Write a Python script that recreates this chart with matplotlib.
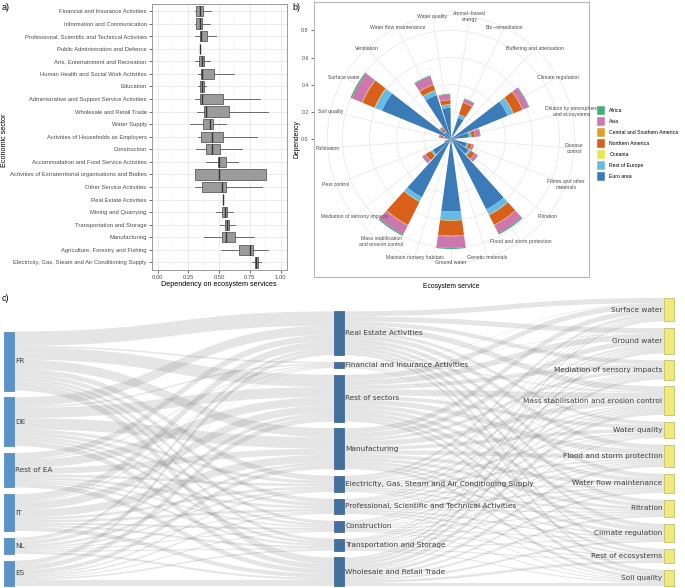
import numpy as np
import matplotlib
matplotlib.use("Agg")
import matplotlib.pyplot as plt
from matplotlib.path import Path
from matplotlib.patches import PathPatch, Rectangle, Patch

# ---------------- data: panel a ----------------
sectors_a = ["Financial and Insurance Activities", "Information and Communication",
             "Professional, Scientific and Technical Activities", "Public Administration and Defence",
             "Arts, Entertainment and Recreation", "Human Health and Social Work Activities",
             "Education", "Administrative and Support Service Activities", "Wholesale and Retail Trade",
             "Water Supply", "Activities of Households as Employers", "Construction",
             "Accommodation and Food Service Activities",
             "Activities of Extraterritorial organisations and Bodies", "Other Service Activities",
             "Real Estate Activities", "Mining and Quarrying", "Transportation and Storage",
             "Manufacturing", "Agriculture, Forestry and Fishing",
             "Electricity, Gas, Steam and Air Conditioning Supply"]
q1_a  = [0.315, 0.313, 0.342, 0.345, 0.337, 0.356, 0.348, 0.342, 0.374, 0.370, 0.350, 0.390, 0.493, 0.302, 0.361, 0.530, 0.525, 0.549, 0.527, 0.664, 0.793]
med_a = [0.342, 0.342, 0.350, 0.345, 0.358, 0.361, 0.358, 0.361, 0.396, 0.423, 0.443, 0.442, 0.500, 0.498, 0.527, 0.530, 0.551, 0.568, 0.555, 0.753, 0.804]
q3_a  = [0.366, 0.361, 0.400, 0.345, 0.375, 0.458, 0.374, 0.535, 0.584, 0.450, 0.533, 0.509, 0.557, 0.885, 0.557, 0.530, 0.568, 0.584, 0.632, 0.772, 0.815]
wlo_a = [0.307, 0.300, 0.300, 0.345, 0.307, 0.329, 0.330, 0.307, 0.320, 0.267, 0.325, 0.316, 0.393, 0.302, 0.300, 0.530, 0.471, 0.509, 0.380, 0.514, 0.764]
whi_a = [0.437, 0.430, 0.477, 0.345, 0.423, 0.625, 0.395, 0.830, 0.900, 0.560, 0.810, 0.688, 0.651, 0.885, 0.847, 0.530, 0.616, 0.627, 0.780, 0.901, 0.839]
xticks_a = [0.0, 0.25, 0.5, 0.75, 1.0]
xticklabels_a = ["0.00", "0.25", "0.50", "0.75", "1.00"]

# ---------------- data: panel b ----------------
services_b = ["Animal\u2013based\nenergy", "Bio\u2013remediation", "Buffering and attenuation",
              "Climate regulation", "Dilution by atmosphere\nand ecosystems", "Disease\ncontrol",
              "Fibres and other\nmaterials", "Filtration", "Flood and storm protection",
              "Genetic materials", "Ground water", "Maintain nursery habitats",
              "Mass stabilisation\nand erosion control", "Mediation of sensory impacts",
              "Pest control", "Pollination", "Soil quality", "Surface water", "Ventilation",
              "Water flow maintenance", "Water quality"]
euro_area  = [0.006, 0.165, 0.006, 0.450, 0.130, 0.015, 0.120, 0.150, 0.580, 0.010, 0.535, 0.010, 0.480, 0.155, 0.030, 0.012, 0.050, 0.550, 0.060, 0.340, 0.230]
rest_eur   = [0.001, 0.025, 0.001, 0.045, 0.020, 0.003, 0.012, 0.015, 0.045, 0.002, 0.065, 0.002, 0.035, 0.015, 0.005, 0.002, 0.010, 0.055, 0.010, 0.035, 0.025]
oceania    = [0.000, 0.002, 0.000, 0.003, 0.002, 0.000, 0.001, 0.002, 0.003, 0.000, 0.003, 0.000, 0.003, 0.002, 0.000, 0.000, 0.001, 0.004, 0.001, 0.003, 0.002]
n_america  = [0.002, 0.090, 0.002, 0.070, 0.025, 0.008, 0.022, 0.035, 0.080, 0.004, 0.110, 0.004, 0.190, 0.045, 0.010, 0.004, 0.015, 0.095, 0.020, 0.040, 0.030]
cs_america = [0.000, 0.003, 0.000, 0.004, 0.002, 0.000, 0.002, 0.003, 0.004, 0.000, 0.005, 0.000, 0.005, 0.003, 0.001, 0.000, 0.001, 0.006, 0.001, 0.004, 0.003]
asia       = [0.001, 0.025, 0.001, 0.045, 0.035, 0.004, 0.016, 0.024, 0.065, 0.002, 0.085, 0.002, 0.075, 0.025, 0.005, 0.002, 0.012, 0.080, 0.015, 0.065, 0.040]
africa     = [0.000, 0.005, 0.000, 0.006, 0.005, 0.001, 0.003, 0.004, 0.010, 0.000, 0.008, 0.000, 0.010, 0.004, 0.001, 0.000, 0.002, 0.010, 0.003, 0.006, 0.004]
regions_b = ["Euro area", "Rest of Europe", "Oceania", "Northern America",
             "Central and Southern America", "Asia", "Africa"]
colors_b = ["#3B7BB7", "#66BBE6", "#E9E84C", "#D9601B", "#E0A02C", "#CC78AE", "#46AE7A"]
rticks_b = [0.0, 0.2, 0.4, 0.6, 0.8]

# ---------------- data: panel c ----------------
countries_c = ["FR", "DE", "Rest of EA", "IT", "NL", "ES"]
sectors_c = ["Real Estate Activities", "Financial and Insurance Activities", "Rest of sectors",
             "Manufacturing", "Electricity, Gas, Steam and Air Conditioning Supply",
             "Professional, Scientific and Technical Activities", "Construction",
             "Transportation and Storage", "Wholesale and Retail Trade"]
services_c = ["Surface water", "Ground water", "Mediation of sensory impacts",
              "Mass stabilisation and erosion control", "Water quality",
              "Flood and storm protection", "Water flow maintenance", "Filtration",
              "Climate regulation", "Rest of ecosystems", "Soil quality"]
flow_country_sector = [
    [14, 1.5, 12, 9, 5, 4, 3, 3, 6.5],
    [9, 1.5, 10, 11, 3, 3.5, 2.5, 2.5, 5],
    [6, 1, 8, 6, 2.5, 2.5, 1.5, 2, 4.5],
    [7, 1, 7.5, 7.5, 2.5, 2.5, 2, 2, 4],
    [3, 0.5, 3.5, 2.5, 1.5, 1, 1, 1, 2],
    [4, 0.5, 5, 4, 1.5, 1.5, 1, 1.5, 6],
]
flow_sector_service = [
    [5, 5, 4, 5.5, 3, 4.5, 4, 3.5, 3.5, 2.5, 2.5],
    [0.5, 0.5, 0.5, 1, 0.5, 0.5, 0.5, 0.5, 0.5, 0.5, 0.5],
    [5, 5.5, 4, 6, 3.5, 5, 4, 3.5, 4, 2.5, 3],
    [5, 5, 3, 5, 3.5, 4, 3.5, 3, 3, 2, 3],
    [2.5, 2, 1, 1.5, 1.5, 1.5, 1.5, 1.5, 1.5, 0.5, 1],
    [1, 1.5, 1.5, 2, 1, 1.5, 1.5, 1, 1.5, 1.5, 1],
    [1, 1, 1, 1.5, 0.5, 1, 1, 1, 1, 1, 1],
    [1, 1.5, 1, 1.5, 1, 1, 1, 1, 1, 1, 1],
    [2, 3, 3, 4, 1.5, 3, 2, 2, 2, 2.5, 3],
]

# ---------------- figure ----------------
W, H = 685, 588
fig = plt.figure(figsize=(W / 100, H / 100), dpi=100)
SANS = ["Liberation Sans", "DejaVu Sans"]


def fax(x0, y0, x1, y1, **kw):
    return fig.add_axes([x0 / W, 1 - y1 / H, (x1 - x0) / W, (y1 - y0) / H], **kw)


def ptext(x, y, s, **kw):
    return fig.text(x / W, 1 - y / H, s, **kw)

# ---------------- panel a ----------------
axa = fax(151.5, 3.5, 286.7, 270)
n_a = len(sectors_a)
stats = [dict(q1=q1_a[i], med=med_a[i], q3=q3_a[i], whislo=wlo_a[i], whishi=whi_a[i], fliers=[])
         for i in range(n_a)]
axa.bxp(stats, positions=np.arange(n_a), widths=0.82, orientation="horizontal",
        patch_artist=True, showfliers=False, showcaps=False,
        boxprops=dict(facecolor="#9b9b9b", edgecolor="#5e5e5e", linewidth=0.6),
        medianprops=dict(color="#333333", linewidth=1.0),
        whiskerprops=dict(color="#555555", linewidth=0.6), zorder=3)
axa.set_xlim(-0.05, 1.05)
axa.set_ylim(n_a - 0.4, -0.6)
axa.set_xticks(xticks_a)
axa.set_xticklabels(xticklabels_a, fontsize=4.2, color="#4d4d4d", family=SANS)
axa.set_xticks([0.125, 0.375, 0.625, 0.875], minor=True)
axa.set_yticks(np.arange(n_a))
axa.set_yticklabels(sectors_a, fontsize=4.2, color="#4d4d4d", family=SANS)
axa.tick_params(axis="both", which="major", length=2, width=0.5, color="#333333", pad=1.5)
axa.tick_params(axis="x", which="minor", length=0)
axa.grid(True, which="major", color="#e8e8e8", linewidth=0.6, zorder=0)
axa.grid(True, which="minor", axis="x", color="#f2f2f2", linewidth=0.35, zorder=0)
axa.set_axisbelow(True)
for s in axa.spines.values():
    s.set_color("#9a9a9a")
    s.set_linewidth(0.7)
ptext(219, 285, "Dependency on ecosystem services", fontsize=5.2, ha="center", va="center", family=SANS)
ptext(5, 140, "Economic sector", fontsize=5.2, ha="center", va="center", rotation=90, family=SANS)

# ---------------- panel b ----------------
vals_b = np.array([euro_area, rest_eur, oceania, n_america, cs_america, asia, africa])
totals_b = vals_b.sum(axis=0)
rmax = totals_b.max()
S = 275.0
cx, cy = 451.0, 139.0
frame = fax(cx - S / 2, cy - S / 2, cx + S / 2, cy + S / 2)
frame.set_xlim(-1, 1)
frame.set_ylim(-1.25 * rmax, 1.25 * rmax)
frame.set_xticks([])
frame.set_yticks(rticks_b)
frame.set_yticklabels([f"{v:.1f}" for v in rticks_b], fontsize=3.8, color="#4d4d4d", family=SANS)
frame.tick_params(axis="y", length=2, width=0.5, color="#333333", pad=1.5)
for s in frame.spines.values():
    s.set_color("#b8b8b8")
    s.set_linewidth(0.8)

R_out = rmax * 0.45 / 0.4
axp = fax(cx - 0.45 * S, cy - 0.45 * S, cx + 0.45 * S, cy + 0.45 * S, projection="polar")
axp.patch.set_alpha(0)
axp.set_theta_zero_location("N")
axp.set_theta_direction(-1)
n_b = len(services_b)
theta = (np.arange(n_b) + 0.5) / n_b * 2 * np.pi
bw = 0.9 * 2 * np.pi / n_b
bottom = np.zeros(n_b)
for row, col in zip(vals_b, colors_b):
    axp.bar(theta, row, width=bw, bottom=bottom, color=col, linewidth=0, zorder=3)
    bottom = bottom + row
axp.set_ylim(0, R_out)
axp.set_xticks(theta)
axp.set_xticklabels([])
axp.set_yticks(rticks_b[1:])
axp.set_yticklabels([])
axp.grid(True, color="#e6e6e6", linewidth=0.5)
axp.set_axisbelow(True)
axp.spines["polar"].set_color("#e6e6e6")
axp.spines["polar"].set_linewidth(0.5)
for t, lab in zip(theta, services_b):
    axp.text(t, R_out, lab, ha="center", va="center", fontsize=3.7, color="#4d4d4d",
             family=SANS, multialignment="center", clip_on=False, zorder=5)
ptext(297, 139, "Dependency", fontsize=4.9, ha="center", va="center", rotation=90, family=SANS)
ptext(cx, 287, "Ecosystem service", fontsize=4.9, ha="center", va="center", family=SANS)

handles = [Patch(facecolor=c, edgecolor="white", linewidth=0.3, label=l)
           for l, c in zip(regions_b[::-1], colors_b[::-1])]
fig.legend(handles=handles, loc="upper left", bbox_to_anchor=(596.5 / W, 1 - 105.5 / H),
           frameon=False, prop=dict(family=SANS, size=3.7), handlelength=1.75, handleheight=2.32,
           labelspacing=0.41, handletextpad=0.75, borderpad=0, borderaxespad=0)

# ---------------- panel c: sankey ----------------
axc = fax(0, 290, W, H)
axc.set_xlim(0, W)
axc.set_ylim(H, 290)
axc.axis("off")

A = np.array(flow_country_sector, dtype=float)
B = np.array(flow_sector_service, dtype=float)
col_vals = [A.sum(axis=1), np.maximum(A.sum(axis=0), B.sum(axis=1)), B.sum(axis=0)]
col_names = [countries_c, sectors_c, services_c]
y_top, y_bot, gap = 298.0, 586.0, 6.7
x_left, x_right, nw = 4.0, 674.0, 10.0
k = min((y_bot - y_top - (len(v) - 1) * gap) / v.sum() for v in col_vals)
col_x = [x_left + i * (x_right - x_left - nw) / 2 for i in range(3)]
node_y = []
for v in col_vals:
    h = v * k
    start = y_bot - (h.sum() + (len(v) - 1) * gap)
    ys = start + np.concatenate([[0], np.cumsum(h[:-1] + gap)])
    node_y.append(ys)

node_colors = ["#5A93C7", "#41709D", "#EEEA7B"]
node_edges = ["#4a83b7", "#355f88", "#b9b55a"]

def draw_links(M, ci):
    src_y, tgt_y = node_y[ci], node_y[ci + 1]
    x0 = col_x[ci] + nw
    x1 = col_x[ci + 1]
    xm = (x0 + x1) / 2
    ns, nt = M.shape
    src_off = {}
    for i in range(ns):
        off = src_y[i]
        for j in sorted(range(nt), key=lambda j: tgt_y[j]):
            src_off[(i, j)] = off
            off += M[i, j] * k
    tgt_off = {}
    for j in range(nt):
        off = tgt_y[j]
        for i in sorted(range(ns), key=lambda i: src_y[i]):
            tgt_off[(i, j)] = off
            off += M[i, j] * k
    for i in range(ns):
        for j in range(nt):
            w = M[i, j] * k
            if w <= 0:
                continue
            sy, ty = src_off[(i, j)], tgt_off[(i, j)]
            verts = [(x0, sy), (xm, sy), (xm, ty), (x1, ty), (x1, ty + w),
                     (xm, ty + w), (xm, sy + w), (x0, sy + w), (x0, sy)]
            codes = [Path.MOVETO, Path.CURVE4, Path.CURVE4, Path.CURVE4, Path.LINETO,
                     Path.CURVE4, Path.CURVE4, Path.CURVE4, Path.CLOSEPOLY]
            axc.add_patch(PathPatch(Path(verts, codes), facecolor="#7f7f7f", alpha=0.2,
                                    edgecolor="none", zorder=1))

draw_links(A, 0)
draw_links(B, 1)

for ci in range(3):
    for name, y0, v in zip(col_names[ci], node_y[ci], col_vals[ci]):
        h = v * k
        axc.add_patch(Rectangle((col_x[ci], y0), nw, h, facecolor=node_colors[ci],
                                edgecolor=node_edges[ci], linewidth=0.5, zorder=3))
        if ci < 2:
            axc.text(col_x[ci] + nw + 1.5, y0 + h / 2, name, ha="left", va="center",
                     fontsize=5.3, color="#404040", family="DejaVu Sans", zorder=4)
        else:
            axc.text(col_x[ci] - 1.5, y0 + h / 2, name, ha="right", va="center",
                     fontsize=5.3, color="#404040", family="DejaVu Sans", zorder=4)

# panel tags
ptext(2, 8, "a)", fontsize=6.5, ha="left", va="center", family=SANS)
ptext(292, 8, "b)", fontsize=6.5, ha="left", va="center", family=SANS)
ptext(2, 298.5, "c)", fontsize=6.5, ha="left", va="center", family=SANS)

fig.savefig("out.png", dpi=100)
